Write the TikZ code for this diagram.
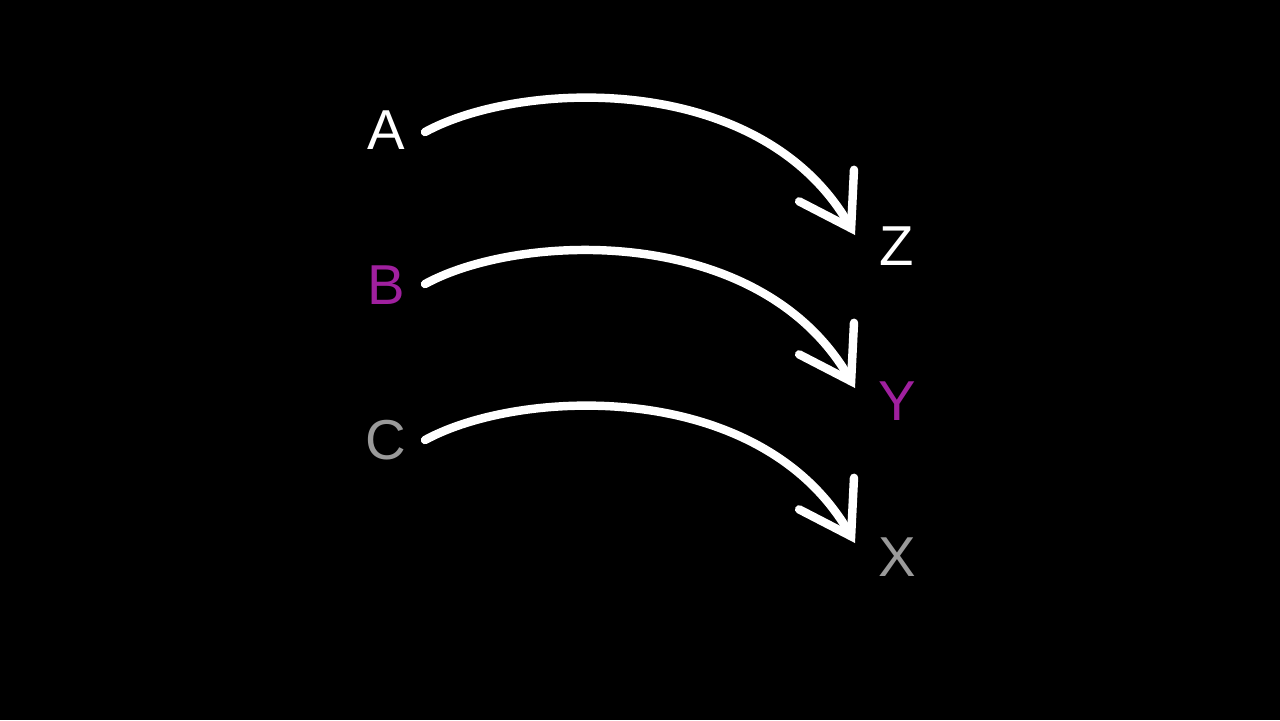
\documentclass[tikz,border=0pt]{standalone}
\usepackage{fontspec}
\setmainfont{Liberation Sans}
\usetikzlibrary{arrows.meta}
\definecolor{mag}{HTML}{A0209F}
\definecolor{gry}{HTML}{9A9A9A}
\begin{document}
\begin{tikzpicture}[x=0.01cm,y=-0.01cm,
  lbl/.style={font=\fontsize{16}{19}\selectfont, inner sep=0pt},
  arr/.style={white, line width=2.4pt, line cap=round, -{Straight Barb[length=14pt,width=18pt,line cap=round]}}]
\fill[black] (0,0) rectangle (1280,720);
\node[lbl,white] (A) at (386,130) {A};
\node[lbl,mag] (B) at (386,285) {B};
\node[lbl,gry] (C) at (386,440) {C};
\node[lbl,white] (Z) at (897,246) {Z};
\node[lbl,mag] (Y) at (897,401) {Y};
\node[lbl,gry] (X) at (897,557) {X};
\coordinate (a1) at (425,132); \coordinate (a2) at (855,235);
\coordinate (b1) at (425,284); \coordinate (b2) at (855,388);
\coordinate (c1) at (425,440); \coordinate (c2) at (855,543);
\draw[arr] (a1) .. controls (520,80) and (760,70) .. (a2);
\draw[arr] (b1) .. controls (520,232) and (760,223) .. (b2);
\draw[arr] (c1) .. controls (520,388) and (760,378) .. (c2);
\end{tikzpicture}
\end{document}
